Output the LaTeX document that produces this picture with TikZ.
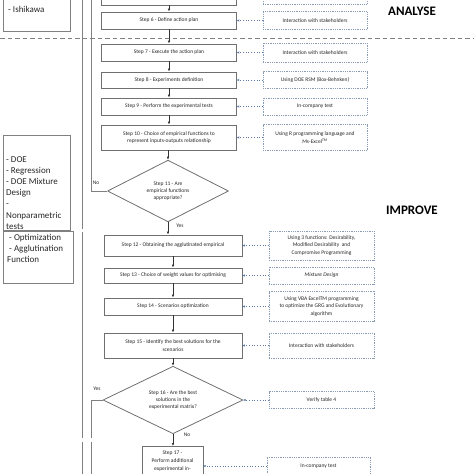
\documentclass[tikz,border=0pt]{standalone}
\usepackage{fontspec}
\setmainfont{Carlito}
\usetikzlibrary{shapes.geometric,arrows.meta}
\definecolor{boxgray}{HTML}{707070}
\definecolor{sidegray}{HTML}{8A9BB5}
\definecolor{linkblue}{HTML}{5A78A8}
\definecolor{rulegray}{HTML}{808080}
\begin{document}
\begin{tikzpicture}[x=1pt,y=-1pt,
  small/.style={font=\fontsize{5.5}{7.3}\selectfont, text=black!85},
  stepbox/.style={small, draw=boxgray, line width=0.8pt, fill=white, align=center, inner sep=0pt},
  decision/.style={small, draw=boxgray, line width=0.8pt, fill=white, align=center, inner sep=0pt, diamond},
  sidebox/.style={small, draw=sidegray, densely dotted, line width=0.8pt, align=center, inner sep=0pt},
  leftbox/.style={draw=rulegray, line width=0.8pt, inner sep=0pt},
  lefttext/.style={font=\fontsize{9}{11.1}\selectfont, align=left, inner sep=0pt, text=black!85},
  phase/.style={font=\fontsize{13}{15}\selectfont\bfseries, inner sep=0pt},
  flow/.style={-{Latex[length=3pt,width=2.6pt]}, line width=0.6pt, black!80},
  rule/.style={draw=rulegray, line width=0.8pt},
  link/.style={draw=linkblue, dotted, line width=0.7pt, -{Stealth[length=2.6pt,width=2.4pt]}},
  lbl/.style={small, inner sep=0pt}
]
\useasboundingbox (0,0) rectangle (474,474);
\clip (0,0) rectangle (474,474);

% left boxes
\node[leftbox, minimum width=67pt, minimum height=62pt] (ishbox) at (36.5,0) {};
\node[lefttext, anchor=west] (ishtext) at (8,9) {- Ishikawa};
\node[leftbox, minimum width=67pt, minimum height=95pt] (doebox) at (36.5,182.5) {};
\node[lefttext, anchor=north west] (doetext) at (6,156.5) {- DOE\\- Regression\\- DOE Mixture\\Design\\-\\Nonparametric\\tests};
\node[leftbox, minimum width=70pt, minimum height=52pt] (optbox) at (38,257) {};
\node[lefttext, anchor=north west] (opttext) at (7,234) {\ - Optimization\\\ - Agglutination\\Function};

% phase labels and separator
\node[phase] (analyse) at (412,11) {ANALYSE};
\node[phase] (improve) at (412,210) {IMPROVE};
\coordinate (sepL) at (0,38.5);
\coordinate (sepR) at (474,38.5);
\draw[draw=rulegray, line width=1.1pt, dash pattern=on 4.5pt off 3pt] (sepL) -- (sepR);

% vertical rules
\coordinate (a1) at (82,-5);   \coordinate (a2) at (82,229);
\coordinate (a3) at (82,232);  \coordinate (a4) at (82,438);
\coordinate (a5) at (82,442);  \coordinate (a6) at (82,480);
\coordinate (b5) at (91.5,442);\coordinate (b6) at (91.5,480);
\draw[rule] (a1) -- (a2);
\draw[rule] (a3) -- (a4);
\draw[rule] (a5) -- (a6);
\draw[rule] (b5) -- (b6);

% main flow
\node[stepbox, minimum width=135pt, minimum height=20pt] (s5) at (169,-5) {};
\node[stepbox, minimum width=135pt, minimum height=17pt] (s6) at (169,20.5) {Step 6 - Define action plan};
\node[stepbox, minimum width=135pt, minimum height=17pt] (s7) at (169,52.5) {Step 7 - Execute the action plan};
\node[stepbox, minimum width=135pt, minimum height=16pt] (s8) at (169,80) {Step 8 - Experiments definition};
\node[stepbox, minimum width=135pt, minimum height=17pt] (s9) at (169,106.5) {Step 9 - Perform the experimental tests};
\node[stepbox, minimum width=135pt, minimum height=25pt] (s10) at (169,137.5) {Step 10 - Choice of empirical functions to\\represent inputs-outputs relationship};
\node[decision, minimum width=121pt, minimum height=56pt] (d11) at (168,191) {Step 11 - Are\\empirical functions\\appropriate?};
\node[stepbox, minimum width=138pt, minimum height=21pt] (s12) at (173,245.5) {Step 12 - Obtaining the agglutinated empirical};
\node[stepbox, minimum width=138pt, minimum height=15pt] (s13) at (173,275.5) {Step 13 - Choice of weight values for optimising};
\node[stepbox, minimum width=138pt, minimum height=17pt] (s14) at (173,306.5) {Step 14 - Scenarios optimization};
\node[stepbox, minimum width=138pt, minimum height=25pt] (s15) at (173,345.5) {Step 15 - Identify the best solutions for the\\scenarios};
\node[decision, minimum width=140pt, minimum height=57pt] (d16) at (173,400) {Step 16 - Are the best\\solutions in the\\experimental matrix?};
\node[stepbox, font=\fontsize{5.5}{8.2}\selectfont, minimum width=61pt, inner ysep=4.5pt, anchor=north] (s17) at (172.5,446) {Step 17 -\\Perform additional\\experimental in-};

\draw[flow] (s5) -- (s6);
\draw[flow] (s6) -- (s7);
\draw[flow] (s7) -- (s8);
\draw[flow] (s8) -- (s9);
\draw[flow] (s9) -- (s10);
\draw[flow] (s10.south -| d11.north) -- (d11.north);
\draw[flow] (d11.south) -- (d11.south |- s12.north);
\draw[flow] (s12) -- (s13);
\draw[flow] (s13) -- (s14);
\draw[flow] (s14) -- (s15);
\draw[flow] (s15) -- (d16);
\draw[flow] (d16.south) -- (d16.south |- s17.north);

% loops
\coordinate (noTop) at (91.5,-5);
\coordinate (yesBot) at (91.5,438);
\draw[rule] (d11.west) -| (noTop);
\draw[rule] (d16.west) -| (yesBot);
\node[lbl] (noA) at (96,183) {No};
\node[lbl] (yesA) at (180,226) {Yes};
\node[lbl] (yesB) at (97,389) {Yes};
\node[lbl] (noB) at (187,435) {No};

% side boxes
\node[sidebox, minimum width=104pt, minimum height=20pt] (ss5) at (315,-6) {};
\node[sidebox, minimum width=104pt, minimum height=18pt] (ss6) at (315,20.5) {Interaction with stakeholders};
\node[sidebox, minimum width=104pt, minimum height=19pt] (ss7) at (315,52.5) {Interaction with stakeholders};
\node[sidebox, minimum width=104pt, minimum height=17pt] (ss8) at (315,80) {Using DOE RSM (Box-Behnken)};
\node[sidebox, minimum width=104pt, minimum height=17pt] (ss9) at (315,106.5) {In-company test};
\node[sidebox, minimum width=104pt, minimum height=26pt] (ss10) at (315,137.5) {Using R programming language and\\Ms-Excel\textsuperscript{TM}};
\node[sidebox, minimum width=105pt, minimum height=29pt] (ss12) at (321.5,245.5) {Using 3 functions: Desirability,\\Modified Desirability\ \ and\\Compromise Programming};
\node[sidebox, minimum width=105pt, minimum height=17pt] (ss13) at (321.5,275.5) {\itshape Mixture Design};
\node[sidebox, minimum width=105pt, minimum height=30pt] (ss14) at (321.5,306.5) {Using VBA ExcelTM programming\\to optimize the GRG and Evolutionary\\algorithm};
\node[sidebox, minimum width=105pt, minimum height=25pt] (ss15) at (321.5,345.5) {Interaction with stakeholders};
\node[sidebox, minimum width=105pt, minimum height=17pt] (ss16) at (321.5,400) {Verify table 4};
\node[sidebox, minimum width=103pt, minimum height=18pt] (ss17) at (318.5,466) {In-company test};

\draw[link] (ss6) -- (s6);
\draw[link] (ss7) -- (s7);
\draw[link] (ss8) -- (s8);
\draw[link] (ss9) -- (s9);
\draw[link] (ss10) -- (s10);
\draw[link] (ss12) -- (s12);
\draw[link] (ss13) -- (s13);
\draw[link] (ss14) -- (s14);
\draw[link] (ss15) -- (s15);
\draw[link] (ss16) -- (d16.east);
\draw[link] (ss17.west) -- (ss17.west -| s17.east);
\end{tikzpicture}
\end{document}
